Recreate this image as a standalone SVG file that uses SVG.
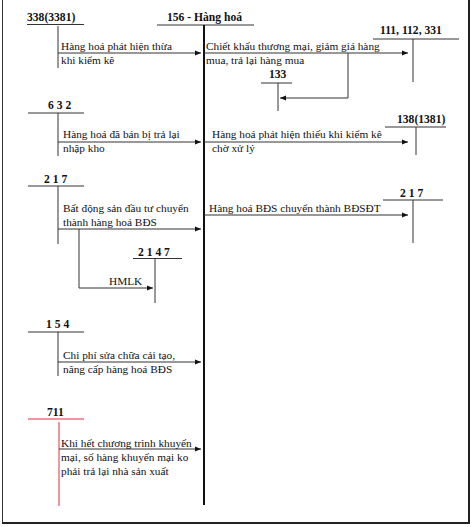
<svg xmlns="http://www.w3.org/2000/svg" width="474" height="527" viewBox="0 0 474 527">
<style>
text{font-family:"Liberation Serif","Times New Roman",serif;fill:#111;}
.t{font-size:11.3px;}
.h{font-size:11.6px;font-weight:bold;}
.ln{stroke:#333;stroke-width:1;fill:none;}
.red{stroke:#e0303a;stroke-width:1;fill:none;}
.main{stroke:#111;stroke-width:2;fill:none;}
.arr{stroke:#333;stroke-width:1;fill:none;marker-end:url(#ah);}
</style>
<defs>
<marker id="ah" markerWidth="6" markerHeight="6" refX="6" refY="3" orient="auto" markerUnits="userSpaceOnUse">
<path d="M0,0.5 L6,3 L0,5.5 Z" fill="#111"/>
</marker>
</defs>
<rect x="0" y="0" width="474" height="527" fill="#fff"/>
<g id="frame">
<line x1="2.5" y1="0" x2="2.5" y2="524" stroke="#333" stroke-width="1"/>
<line x1="469" y1="0" x2="469" y2="524" stroke="#222" stroke-width="2"/>
<line x1="2" y1="523" x2="470" y2="523" stroke="#222" stroke-width="2"/>
</g>
<g id="acc156">
<text class="h" x="167" y="21">156 - Hàng hoá</text>
<line class="ln" x1="157" y1="25" x2="254" y2="25" stroke-width="1.5"/>
<line class="main" x1="204" y1="25" x2="204" y2="505"/>
</g>
<g id="acc3381">
<text class="h" x="27" y="21">338(3381)</text>
<line class="ln" x1="27" y1="24.5" x2="84" y2="24.5"/>
<line class="ln" x1="58" y1="26" x2="58" y2="68"/>
</g>
<g id="acc111">
<text class="h" x="380" y="34">111, 112, 331</text>
<line class="ln" x1="373" y1="39" x2="459" y2="39"/>
<line class="ln" x1="413" y1="39" x2="413" y2="82"/>
</g>
<g id="acc133">
<text class="h" x="269" y="78">133</text>
<line class="ln" x1="261" y1="83" x2="292" y2="83"/>
<line class="ln" x1="278" y1="83" x2="278" y2="111"/>
</g>
<g id="acc632">
<text class="h" x="48" y="109">6 3 2</text>
<line class="ln" x1="28" y1="113" x2="84" y2="113"/>
<line class="ln" x1="58" y1="113" x2="58" y2="156"/>
</g>
<g id="acc1381">
<text class="h" x="397" y="123">138(1381)</text>
<line class="ln" x1="385" y1="127" x2="446" y2="127"/>
<line class="ln" x1="416" y1="127" x2="416" y2="155"/>
</g>
<g id="acc217a">
<text class="h" x="44" y="183">2 1 7</text>
<line class="ln" x1="28" y1="186" x2="84" y2="186"/>
<line class="ln" x1="58" y1="186" x2="58" y2="244"/>
</g>
<g id="acc217b">
<text class="h" x="400" y="197">2 1 7</text>
<line class="ln" x1="383" y1="200" x2="443" y2="200"/>
<line class="ln" x1="413" y1="200" x2="413" y2="243"/>
</g>
<g id="acc2147">
<text class="h" x="138" y="256">2 1 4 7</text>
<line class="ln" x1="133" y1="258.5" x2="182" y2="258.5"/>
<line class="ln" x1="155" y1="258.5" x2="155" y2="303"/>
</g>
<g id="acc154">
<text class="h" x="46" y="328">1 5 4</text>
<line class="ln" x1="28" y1="332" x2="84" y2="332"/>
<line class="ln" x1="58" y1="332" x2="58" y2="376"/>
</g>
<g id="acc711">
<text class="h" x="47" y="416">711</text>
<line class="red" x1="28" y1="419" x2="84" y2="419"/>
<line class="red" x1="59" y1="422" x2="59" y2="506"/>
</g>
<g id="connectors">
<line class="arr" x1="58" y1="53" x2="201" y2="53"/>
<line class="arr" x1="204" y1="53" x2="408" y2="53"/>
<polyline class="arr" points="348,53 348,98 280,98"/>
<line class="arr" x1="58" y1="142" x2="201" y2="142"/>
<line class="arr" x1="204" y1="142" x2="408" y2="142"/>
<line class="arr" x1="58" y1="229" x2="201" y2="229"/>
<line class="arr" x1="204" y1="215" x2="408" y2="215"/>
<polyline class="arr" points="79,229 79,288 153,288"/>
<line class="arr" x1="58" y1="362" x2="201" y2="362"/>
<line class="arr" x1="59" y1="449" x2="201" y2="449"/>
</g>
<g id="labels">
<text class="t" x="61" y="50">Hàng hoá phát hiện thừa</text>
<text class="t" x="61" y="64">khi kiểm kê</text>
<text class="t" x="206" y="50">Chiết khấu thương mại, giảm giá hàng</text>
<text class="t" x="206" y="64">mua, trả lại hàng mua</text>
<text class="t" x="63" y="138">Hàng hoá đã bán bị trả lại</text>
<text class="t" x="63" y="152">nhập kho</text>
<text class="t" x="212" y="138">Hàng hoá phát hiện thiếu khi kiểm kê</text>
<text class="t" x="212" y="152">chờ xử lý</text>
<text class="t" x="63" y="212">Bất động sản đầu tư chuyển</text>
<text class="t" x="63" y="226">thành hàng hoá BĐS</text>
<text class="t" x="209" y="212">Hàng hoá BĐS chuyển thành BĐSĐT</text>
<text class="t" x="109" y="285">HMLK</text>
<text class="t" x="63" y="359">Chi phí sửa chữa cải tạo,</text>
<text class="t" x="63" y="373">nâng cấp hàng hoá BĐS</text>
<text class="t" x="61" y="447">Khi hết chương trình khuyến</text>
<text class="t" x="61" y="461">mại, số hàng khuyến mại ko</text>
<text class="t" x="61" y="475">phải trả lại nhà sản xuất</text>
</g>
</svg>
